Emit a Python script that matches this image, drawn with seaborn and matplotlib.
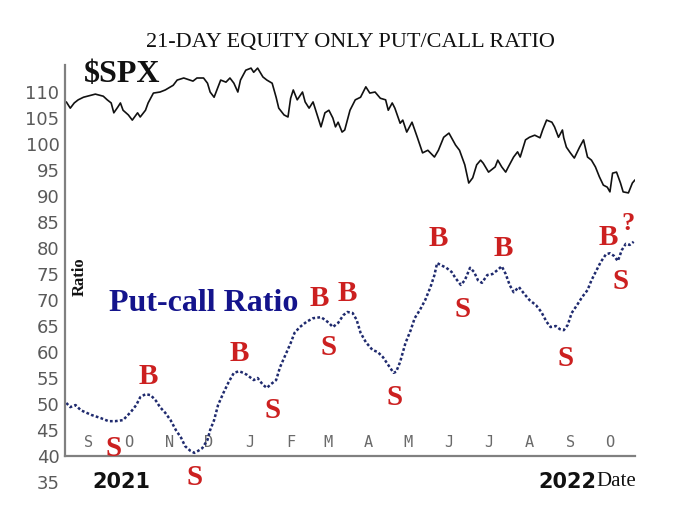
import numpy as np
import pandas as pd
import matplotlib
matplotlib.use("Agg")
import matplotlib.pyplot as plt
import seaborn as sns

# ---------------- data (days counted from 2021-09-01) ----------------
base_date = "2021-09-01"

spx_day = [-17, -14, -11, -8, -4, 2, 5, 11, 14, 17, 19, 22, 24, 26, 30, 33, 37, 39, 43, 45,
           49, 54, 58, 64, 67, 72, 79, 82, 87, 90, 92, 95, 98, 100, 104, 107, 110, 113, 115, 119,
           123, 125, 128, 132, 135, 139, 142, 144, 148, 151, 153, 155, 158, 162, 164, 167, 170, 172, 176, 179,
           182, 185, 187, 189, 192, 194, 198, 202, 206, 210, 213, 217, 221, 225, 227, 230, 232, 236, 238, 241,
           245, 249, 253, 257, 262, 265, 269, 273, 278, 281, 285, 288, 291, 294, 297, 299, 303, 308, 310, 313,
           316, 318, 322, 325, 327, 331, 334, 338, 342, 344, 347, 351, 353, 356, 359, 360, 362, 365, 368, 372,
           375, 378, 381, 384, 387, 390, 393, 395, 397, 400, 403, 405, 409, 412, 414]
spx_val = [108.1, 106.9, 107.9, 108.5, 109.0, 109.4, 109.6, 109.2, 108.5, 107.9, 106.0, 107.1, 107.9, 106.5, 105.6, 104.6, 106.0, 105.2, 106.5, 107.9,
           109.8, 110.0, 110.4, 111.3, 112.3, 112.7, 112.1, 112.7, 112.7, 111.7, 110.0, 109.0, 111.0, 112.3, 111.9, 112.7, 111.7, 110.0, 112.3, 114.2,
           114.6, 113.8, 114.6, 112.9, 112.3, 111.7, 109.0, 106.9, 105.6, 105.2, 108.8, 110.4, 108.5, 110.0, 108.1, 106.9, 108.1, 106.5, 103.3, 106.0,
           106.5, 105.0, 103.3, 104.2, 102.3, 102.7, 106.5, 108.5, 109.0, 111.0, 109.8, 110.0, 108.8, 108.5, 106.5, 107.9, 106.9, 104.0, 104.6, 102.3,
           104.2, 101.3, 98.3, 98.8, 97.5, 98.8, 101.3, 102.1, 99.8, 98.8, 96.0, 92.5, 93.5, 96.0, 96.9, 96.3, 94.6, 95.6, 96.9, 95.6,
           94.6, 95.6, 97.5, 98.5, 97.5, 100.8, 101.3, 101.7, 101.2, 102.7, 104.6, 104.2, 103.3, 101.3, 102.7, 101.2, 99.4, 98.3, 97.3, 99.4,
           100.8, 97.5, 96.9, 95.6, 93.7, 92.1, 91.7, 90.8, 94.4, 94.6, 92.5, 90.8, 90.6, 92.5, 93.1]

pcr_day = [-17, -14, -10, -6, 2, 9, 15, 20, 26, 32, 36, 39, 43, 47, 51, 54, 58, 62, 66, 70,
           73, 77, 80, 83, 86, 90, 92, 95, 98, 102, 106, 110, 114, 117, 120, 125, 128, 132, 135, 138,
           142, 145, 149, 153, 156, 160, 165, 170, 176, 179, 182, 185, 189, 193, 196, 200, 203, 206, 210, 215,
           219, 223, 227, 231, 233, 236, 240, 244, 247, 251, 255, 259, 262, 264, 267, 271, 275, 278, 282, 285,
           289, 292, 295, 298, 302, 306, 310, 313, 316, 319, 322, 326, 330, 334, 339, 343, 347, 350, 354, 357,
           360, 363, 366, 370, 374, 378, 381, 385, 388, 392, 395, 398, 401, 404, 407, 410, 413]
pcr_val = [50.2, 49.4, 49.8, 48.8, 47.9, 47.3, 46.7, 46.7, 46.9, 48.5, 49.8, 51.3, 51.9, 51.7, 50.6, 49.4, 48.3, 46.9, 45.0, 43.5,
           41.9, 41.0, 40.6, 41.0, 41.5, 43.1, 45.0, 46.9, 49.8, 52.1, 54.2, 56.0, 56.3, 56.0, 55.6, 54.6, 55.0, 53.7, 53.1, 53.8,
           54.6, 57.1, 59.4, 61.7, 63.7, 64.8, 65.8, 66.5, 66.7, 66.2, 65.6, 64.8, 65.6, 67.1, 67.7, 67.5, 66.2, 63.7, 61.9, 60.4,
           60.0, 59.0, 57.5, 56.0, 56.2, 58.1, 61.7, 64.2, 66.5, 68.1, 70.0, 72.5, 74.8, 77.1, 76.7, 76.2, 75.4, 74.2, 72.9, 73.8,
           76.2, 75.4, 73.8, 73.3, 74.8, 75.0, 75.8, 76.5, 75.0, 72.9, 71.5, 72.5, 71.2, 70.0, 69.0, 67.7, 65.8, 64.8, 65.0, 64.4,
           64.2, 65.2, 67.5, 69.0, 70.6, 71.9, 73.8, 75.8, 77.3, 78.8, 79.0, 78.5, 77.5, 79.6, 80.8, 80.6, 81.2]

sig_text = ["S", "B", "S", "B", "S", "B", "S", "B", "S", "B", "S", "B", "S", "B", "S", "?"]
sig_day = [19, 45, 80, 114, 139, 175, 182, 196, 232, 265, 283, 314, 361, 394, 403, 409]
sig_val = [41.5, 55.2, 35.8, 59.8, 48.8, 70.2, 60.8, 71.3, 51.2, 81.9, 68.1, 80.0, 58.8, 82.1, 73.5, 84.8]

month_labels = ["S", "O", "N", "D", "J", "F", "M", "A", "M", "J", "J", "A", "S", "O"]
y_ticks = [35, 40, 45, 50, 55, 60, 65, 70, 75, 80, 85, 90, 95, 100, 105, 110]
title = "21-DAY EQUITY ONLY PUT/CALL RATIO"

# ---------------- build ----------------
t0 = pd.Timestamp(base_date)
def to_dates(days):
    return t0 + pd.to_timedelta(np.asarray(days, dtype=float), unit="D")

spx_df = pd.DataFrame({"date": to_dates(spx_day), "value": spx_val})
pcr_df = pd.DataFrame({"date": to_dates(pcr_day), "value": pcr_val})
month_ticks = pd.date_range("2021-09-01", "2022-10-01", freq="MS")

sns.set_style("white")
plt.rcParams["font.family"] = ["DejaVu Sans"]

fig = plt.figure(figsize=(7.0, 5.24), dpi=100)
ax = fig.add_axes([0.092857, 0.080153, 0.814286, 0.795802])

sns.lineplot(data=spx_df, x="date", y="value", ax=ax, color="#111111", linewidth=1.2)
sns.lineplot(data=pcr_df, x="date", y="value", ax=ax, color="#1f2a6e",
             linewidth=1.8, linestyle=(0, (1.1, 0.9)))

ax.set_xlim(pd.Timestamp("2021-08-14"), pd.Timestamp("2022-10-20"))
ax.set_ylim(35, 115.2)
ax.set_xlabel("")
ax.set_ylabel("")

gray = "#808080"
for s in ["top", "right"]:
    ax.spines[s].set_visible(False)
ax.spines["bottom"].set_position(("data", 40))
ax.spines["left"].set_bounds(40, 115.2)
for s in ["bottom", "left"]:
    ax.spines[s].set_color(gray)
    ax.spines[s].set_linewidth(1.6)

ax.set_yticks(y_ticks)
ax.set_yticklabels([str(v) for v in y_ticks])
ax.tick_params(axis="y", direction="out", length=3, width=1, color=gray,
               labelsize=13, labelcolor="#5a5a5a", pad=1)

ax.set_xticks(month_ticks)
ax.set_xticklabels(month_labels, fontfamily="DejaVu Sans Mono")
ax.tick_params(axis="x", direction="inout", length=6, width=1, color=gray,
               labelsize=11, labelcolor="#6a6a6a", pad=-7.5)
for lab in ax.get_xticklabels():
    lab.set_va("bottom")

def d(day):
    return t0 + pd.Timedelta(days=day)

# signal letters
for txt, dy, v in zip(sig_text, sig_day, sig_val):
    ax.text(d(dy), v, txt, color="#cc2020", fontsize=19 if txt == "?" else 21,
            fontweight="bold", fontfamily="Liberation Serif", ha="center", va="center")

ax.text(d(-4), 113.3, "$SPX", fontsize=23, fontweight="bold", fontfamily="Liberation Serif",
        color="#111111", ha="left", va="center")
ax.text(d(15), 69.4, "Put-call Ratio", fontsize=23, fontweight="bold", fontfamily="Liberation Serif",
        color="#14148c", ha="left", va="center")
ax.text(d(-7), 74.4, "Ratio", fontsize=12, fontweight="bold", fontfamily="Liberation Serif",
        color="#111111", ha="center", va="center", rotation=90)
ax.text(d(3), 35, "2021", fontsize=15, fontweight="bold", color="#111111", ha="left", va="center")
ax.text(d(385), 35, "2022", fontsize=15, fontweight="bold", color="#111111", ha="right", va="center")
ax.text(d(385), 35, "Date", fontsize=15, fontfamily="Liberation Serif", color="#111111",
        ha="left", va="center")

fig.text(0.5, 1 - 42 / 524, title, fontsize=16, fontfamily="Liberation Serif",
         color="#111111", ha="center", va="center")

fig.savefig("out.png", dpi=100, facecolor="white")
